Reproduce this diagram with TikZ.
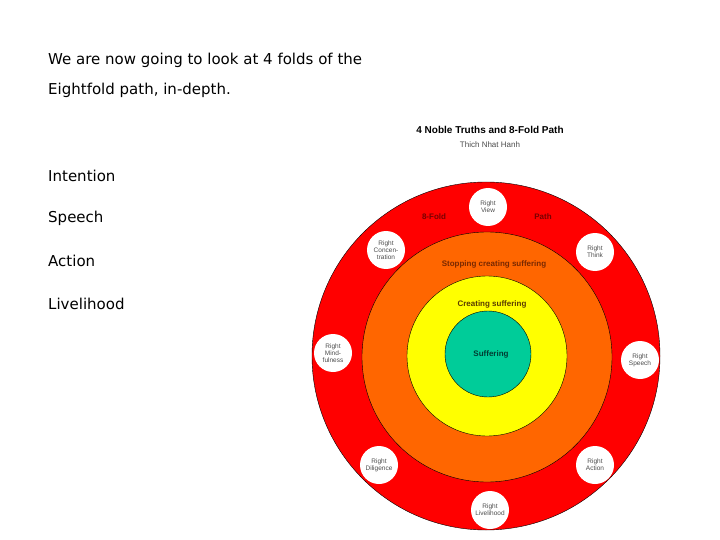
\documentclass[tikz,border=0pt]{standalone}
\usepackage{fontspec}
\setmainfont{DejaVu Sans}
\newfontfamily\arial{Liberation Sans}
\begin{document}
\begin{tikzpicture}[x=1pt,y=-1pt,
  ring/.style={circle,draw=black,line width=0.4pt,inner sep=0pt},
  wc/.style={circle,fill=white,minimum size=38pt,inner sep=0pt,align=center,font=\arial\fontsize{6.5}{7}\selectfont,text=black!70},
  lab/.style={font=\arial\bfseries\fontsize{8}{9}\selectfont},
  txt/.style={anchor=west,font=\fontsize{15}{18}\selectfont,inner sep=0pt}]
\useasboundingbox (0,0) rectangle (720,540);
\node[ring,fill={rgb,255:red,255;green,0;blue,0},minimum size=348pt] (r1) at (486,356) {};
\node[ring,fill={rgb,255:red,255;green,102;blue,0},minimum size=250pt] (r2) at (487,357) {};
\node[ring,fill={rgb,255:red,255;green,255;blue,0},minimum size=160pt] (r3) at (487,356) {};
\node[ring,fill={rgb,255:red,0;green,204;blue,153},minimum size=86pt] (r4) at (488,354) {};
\node[txt] (t1) at (48,60) {We are now going to look at 4 folds of the};
\node[txt] (t2) at (48,90) {Eightfold path, in-depth.};
\node[txt] (l1) at (48,176) {Intention};
\node[txt] (l2) at (48,218) {Speech};
\node[txt] (l3) at (48,261) {Action};
\node[txt] (l4) at (48,304) {Livelihood};
\node[font=\arial\bfseries\fontsize{10}{12}\selectfont] (ti) at (490,130) {4 Noble Truths and 8-Fold Path};
\node[font=\arial\fontsize{8}{9}\selectfont,text=black!70] (st) at (490,145) {Thich Nhat Hanh};
\node[lab,text={rgb,255:red,120;green,0;blue,0}] (f8) at (434,217) {8-Fold};
\node[lab,text={rgb,255:red,120;green,0;blue,0}] (pa) at (543,217) {Path};
\node[lab,text={rgb,255:red,120;green,40;blue,0}] (sc) at (494,264) {Stopping creating suffering};
\node[lab,text={rgb,255:red,90;green,60;blue,0}] (cs) at (492,304) {Creating suffering};
\node[lab,text={rgb,255:red,0;green,60;blue,50}] (su) at (491,354) {Suffering};
\node[wc] (c1) at (488,207) {Right\\View};
\node[wc] (c2) at (595,252) {Right\\Think};
\node[wc] (c3) at (640,360) {Right\\Speech};
\node[wc] (c4) at (595,465) {Right\\Action};
\node[wc] (c5) at (490,510) {Right\\Livelihood};
\node[wc] (c6) at (379,465) {Right\\Diligence};
\node[wc] (c7) at (333,353) {Right\\Mind-\\fulness};
\node[wc] (c8) at (386,250) {Right\\Concen-\\tration};
\end{tikzpicture}
\end{document}
